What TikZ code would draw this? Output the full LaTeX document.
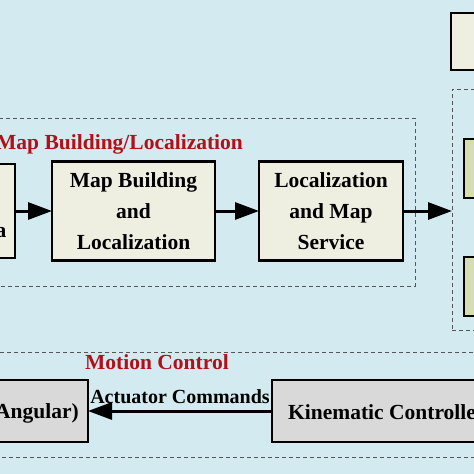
\documentclass[tikz,border=0pt]{standalone}
\usepackage{fontspec}
\setmainfont{Liberation Serif}
\usetikzlibrary{arrows.meta}
\definecolor{bgblue}{HTML}{D3EAF0}
\definecolor{cream}{HTML}{EEEFE0}
\definecolor{greenbox}{HTML}{D6DDB1}
\definecolor{greybox}{HTML}{D9D9D9}
\definecolor{titlered}{HTML}{B0101A}
\definecolor{dashgrey}{HTML}{555555}
\tikzset{
  px/.style={x=1pt,y=-1pt},
  box/.style={draw=black, line width=2.5pt, rectangle, inner sep=0pt, outer sep=0pt,
    font=\fontsize{21.5}{31}\selectfont\bfseries, align=center},
  dashbox/.style={draw=dashgrey, line width=0.9pt, dash pattern=on 4pt off 3pt, rectangle, inner sep=0pt, outer sep=0pt},
  flow/.style={line width=3pt, -{Triangle[length=24pt,width=17pt]}},
  title/.style={text=titlered, font=\fontsize{21.5}{26}\selectfont\bfseries, inner sep=0pt},
  boxtext/.style={font=\fontsize{21.5}{31}\selectfont\bfseries, inner sep=0pt},
  arrowlabel/.style={font=\fontsize{20}{24}\selectfont\bfseries, inner sep=0pt}
}
\begin{document}
\begin{tikzpicture}[px]
\useasboundingbox (0,0) rectangle (474,474);
\clip (0,0) rectangle (474,474);
\fill[bgblue] (0,0) rectangle (474,474);

% dashed group frames
\node[dashbox, minimum width=435pt, minimum height=168pt] (mbgroup) at (197.5,202) {};
\node[dashbox, minimum width=80pt, minimum height=241pt] (rightgroup) at (492,209.5) {};
\node[dashbox, minimum width=540pt, minimum height=105pt] (motiongroup) at (230,404.5) {};

% titles
\node[title, anchor=base west] (mbtitle) at (-4,149) {Map Building/Localization};
\node[title, anchor=base west] (mctitle) at (85,369) {Motion Control};

% map building row
\node[box, fill=cream, minimum width=95pt, minimum height=94pt] (sensor) at (-32.5,211) {};
\node[boxtext, anchor=base east] (sensortext) at (6.5,237) {a};
\node[box, fill=cream, minimum width=163pt, minimum height=99pt] (mb) at (133.5,211) {Map Building\\and\\Localization};
\node[box, fill=cream, minimum width=144pt, minimum height=99pt] (loc) at (331,211) {Localization\\and Map\\Service};

% right column
\node[box, fill=cream, minimum width=88pt, minimum height=57pt] (topright) at (495,41.5) {};
\node[box, fill=greenbox, minimum width=96pt, minimum height=59pt] (green1) at (512,168.5) {};
\node[box, fill=greenbox, minimum width=96pt, minimum height=59pt] (green2) at (512,286.5) {};

% motion control row
\node[box, fill=greybox, minimum width=188pt, minimum height=62pt] (actuator) at (-6,411) {};
\node[boxtext, anchor=base east] (actuatortext) at (79,418) {Angular)};
\node[box, fill=greybox, minimum width=248pt, minimum height=62pt] (kin) at (396,411) {};
\node[boxtext, anchor=base west] (kintext) at (288,419) {Kinematic Controller};

% connectors
\draw[flow] (sensor.east) -- (mb.west);
\draw[flow] (mb.east) -- (loc.west);
\draw[flow] (loc.east) -- (rightgroup.west |- loc.east);
\draw[flow] (kin.west) -- node[arrowlabel, above=6pt] (actlabel) {Actuator Commands} (actuator.east);
\end{tikzpicture}
\end{document}
